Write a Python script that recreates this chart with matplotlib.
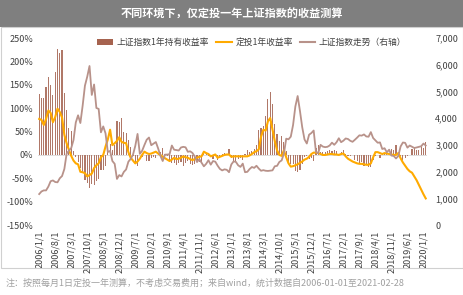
import matplotlib
matplotlib.use("Agg")
import matplotlib.pyplot as plt
import matplotlib.patches as patches
from matplotlib.lines import Line2D
from matplotlib.ticker import FuncFormatter

plt.rcParams['font.family'] = ['Noto Sans CJK SC', 'DejaVu Sans']
plt.rcParams['axes.unicode_minus'] = False

# Data: monthly from 2006/1 to 2020/2
years = list(range(2006, 2021))
months = [f"{y}/{mo}/1" for y in years for mo in range(1, 13)][:170]

# 上证指数1年持有收益率 (%)
hold_ret = [
    130, 121, 122, 145, 167, 150, 128, 177, 226, 217, 224, 132,
    97, 57, 51, 9, -4, -16, -28, -38, -54, -59, -71, -62,
    -65, -55, -52, -32, -33, -23, 8, 23, 11, 21, 73, 71,
    80, 50, 47, 31, 16, -2, -19, -23, -1, -4, -1, -12,
    -14, -7, -5, -6, 1, 6, 15, 2, -3, -11, -17, -17,
    -22, -18, -16, -23, -18, -13, -19, -22, -20, -12, -16, -15,
    3, 4, -3, -1, -9, -3, -11, -5, 2, 4, 3, 12,
    -7, -15, -13, -9, -7, -11, 3, 10, 6, 9, 13, 21,
    53, 58, 61, 84, 119, 135, 109, 66, 45, 29, 40, 28,
    9, -15, -19, -20, -34, -37, -32, -19, -4, -2, -8, -6,
    -12, 15, 21, 7, 7, 7, 9, 10, 9, 11, 9, 2,
    7, 10, 1, -2, -2, -1, -11, -12, -19, -16, -23, -22,
    -25, -26, -10, -2, 0, -6, 5, 2, 6, 3, 13, 11,
    22, 6, -2, -11, -7, -2, 0, 13, 18, 11, 10, 18,
    14, 28,
]

# 定投1年收益率 (%)
dca_ret = [
    77, 75, 64, 77, 95, 90, 70, 81, 99, 92, 80, 43,
    25, 11, -2, -12, -18, -20, -36, -37, -39, -46, -43, -40,
    -28, -22, -18, -5, 0, 18, 33, 54, 21, 25, 30, 38,
    28, 26, 25, 6, -6, -12, -18, -14, -8, 0, 7, 4,
    2, 3, 5, 7, 3, 0, -4, -7, -10, -13, -10, -6,
    -9, -8, -6, -3, -5, -6, -9, -11, -9, -6, -4, -3,
    7, 4, 2, -3, -1, 1, -6, -4, -2, 0, 1, 1,
    -4, -3, -3, -3, -3, -3, -3, -3, -1, 2, 6, 8,
    12, 39, 54, 52, 72, 79, 54, 30, 10, 0, -2, 10,
    -5, -18, -25, -24, -22, -20, -17, -14, -10, -8, -4, 2,
    5, 5, 4, 2, 0, 0, 1, 2, 2, 1, 1, 0,
    2, 3, -3, -8, -11, -14, -16, -18, -19, -19, -20, -21,
    -21, -18, -5, 6, 6, 4, 2, 4, 3, 2, 1, 0,
    0, 4, -7, -16, -23, -30, -35, -38, -46, -54, -64, -74,
    -84, -93,
]

# 上证指数走势 (右轴)
index_lvl = [
    1161, 1258, 1299, 1298, 1440, 1641, 1672, 1612, 1601, 1752, 1837, 2099,
    2675, 2786, 2881, 3183, 3841, 4109, 3820, 4471, 5218, 5552, 5954, 4871,
    5262, 4383, 4348, 3472, 3693, 3433, 2736, 2775, 2397, 2293, 1728, 1871,
    1821, 1990, 2082, 2373, 2477, 2632, 2959, 3412, 2667, 2779, 2995, 3195,
    3277, 2989, 3051, 3109, 2870, 2592, 2398, 2637, 2638, 2655, 2978, 2820,
    2808, 2790, 2905, 2928, 2911, 2743, 2762, 2701, 2567, 2359, 2468, 2333,
    2199, 2292, 2428, 2262, 2396, 2373, 2225, 2103, 2047, 2086, 2069, 1980,
    2269, 2385, 2365, 2236, 2178, 2301, 1979, 1993, 2098, 2174, 2141, 2220,
    2115, 2033, 2056, 2033, 2026, 2039, 2048, 2201, 2217, 2363, 2420, 2683,
    3234, 3210, 3310, 3748, 4441, 4830, 4277, 3663, 3206, 3053, 3383, 3445,
    3539, 2738, 2688, 3003, 2938, 2917, 2929, 2979, 3085, 3005, 3100, 3250,
    3103, 3159, 3242, 3222, 3155, 3117, 3192, 3273, 3360, 3348, 3393, 3317,
    3307, 3480, 3259, 3169, 3082, 3095, 2847, 2876, 2725, 2821, 2602, 2588,
    2494, 2584, 2941, 3090, 3078, 2898, 2978, 2932, 2886, 2905, 2929, 2950,
    3050, 2980,
]

bar_color = '#B07868'
legend_bar_color = '#A6634F'
line_color = '#B8928A'
dca_color = '#FFAA00'
text_color = '#404040'

fig = plt.figure(figsize=(4.64, 2.95), dpi=100)
fig.patch.set_facecolor('white')

# Title bar
fig.patches.append(patches.Rectangle((0, 1 - 27 / 295), 1, 27 / 295, transform=fig.transFigure,
                                     facecolor='#7F7F7F', edgecolor='none', zorder=0))
fig.text(0.5, 1 - 14 / 295, '不同环境下，仅定投一年上证指数的收益测算', color='white',
         fontsize=8, fontweight='bold', ha='center', va='center')

# Chart frame
fig.patches.append(patches.Rectangle((0.002, 1 - 268 / 295), 0.995, (268 - 27) / 295,
                                     transform=fig.transFigure, facecolor='none',
                                     edgecolor='#D0D0D0', linewidth=0.8, zorder=0))

ax = fig.add_axes([0.082, 0.237, 0.838, 0.634])
x = list(range(len(months)))

ax.bar(x, hold_ret, width=0.5, color=bar_color, zorder=2)
ax.axhline(0, color='#D9D9D9', linewidth=0.6, zorder=1)
ax.plot(x, dca_ret, color=dca_color, linewidth=1.5, zorder=3)

ax.set_xlim(-0.5, len(months) - 0.5)
ax.set_ylim(-150, 250)
ax.set_yticks(range(-150, 251, 50))
ax.yaxis.set_major_formatter(FuncFormatter(lambda v, p: f'{v:.0f}%'))
ax.set_xticks(x[::7])
ax.set_xticklabels(months[::7], rotation=90, fontsize=6.5, color=text_color)
ax.tick_params(axis='y', labelsize=6.5, colors=text_color, length=0)
ax.tick_params(axis='x', length=0, pad=4)
for s in ax.spines.values():
    s.set_visible(False)

ax2 = ax.twinx()
ax2.plot(x, index_lvl, color=line_color, linewidth=1.3, zorder=2)
ax2.set_ylim(0, 7000)
ax2.set_yticks(range(0, 7001, 1000))
ax2.yaxis.set_major_formatter(FuncFormatter(lambda v, p: f'{v:,.0f}'))
ax2.tick_params(axis='y', labelsize=6.5, colors=text_color, length=0, pad=6)
for s in ax2.spines.values():
    s.set_visible(False)

handles = [
    patches.Patch(facecolor=legend_bar_color, label='上证指数1年持有收益率'),
    Line2D([0], [0], color=dca_color, linewidth=1.5, label='定投1年收益率'),
    Line2D([0], [0], color=line_color, linewidth=1.5, label='上证指数走势（右轴）'),
]
ax.legend(handles=handles, loc='center', bbox_to_anchor=(0.55, 0.975), ncol=3, frameon=False,
          fontsize=6.3, handlelength=1.8, handleheight=0.6, columnspacing=0.8,
          handletextpad=0.4, labelcolor=text_color)

fig.text(0.012, 1 - 283 / 295,
         '注：按照每月1日定投一年测算，不考虑交易费用；来自wind，统计数据自2006-01-01至2021-02-28',
         fontsize=6.5, color='#A0A0A0', style='italic', ha='left', va='center')

fig.savefig('out.png', dpi=100)
